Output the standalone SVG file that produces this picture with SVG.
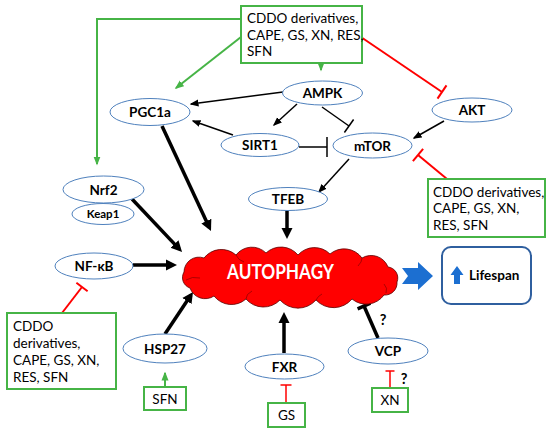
<svg xmlns="http://www.w3.org/2000/svg" width="550" height="432" viewBox="0 0 550 432">
<style>
.el{fill:#fff;stroke:#4f81bd;stroke-width:1}
.lb{font-family:Lato,"Liberation Sans",sans-serif;font-weight:bold;font-size:13.5px;fill:#000;text-anchor:middle}
.bx{fill:#fff;stroke:#46b446;stroke-width:2}
.bt{font-family:Lato,"Liberation Sans",sans-serif;font-size:13.5px;fill:#000}
.g{stroke:#46b446;stroke-width:2;fill:none}
.r{stroke:#ff0000;stroke-width:2;fill:none}
.k{stroke:#000;stroke-width:1.5;fill:none}
.kk{stroke:#000;stroke-width:3.5;fill:none}
</style>
<defs>
<marker id="ab" markerUnits="userSpaceOnUse" markerWidth="12" markerHeight="12" viewBox="0 0 12 12" refX="7" refY="6" orient="auto"><path d="M0,0.5 L11,6 L0,11.5 z" fill="#000"/></marker>
<marker id="at" markerUnits="userSpaceOnUse" markerWidth="9" markerHeight="8" viewBox="0 0 9 8" refX="7.5" refY="4" orient="auto"><path d="M0,0.5 L9,4 L0,7.5 z" fill="#000"/></marker>
<marker id="ag" markerUnits="userSpaceOnUse" markerWidth="9" markerHeight="8" viewBox="0 0 9 8" refX="7.5" refY="4" orient="auto"><path d="M0,0.5 L9,4 L0,7.5 z" fill="#46b446"/></marker>
</defs>

<g id="connectors">
<polyline class="g" points="241,19 97,19 97,164" marker-end="url(#ag)"/>
<line class="g" x1="241" y1="37" x2="176" y2="88" marker-end="url(#ag)"/>
<line class="g" x1="321" y1="47" x2="321" y2="70" marker-end="url(#ag)"/>
<line class="g" x1="165" y1="387" x2="165" y2="373" marker-end="url(#ag)"/>

<line class="r" x1="355" y1="33" x2="442" y2="92"/>
<line class="r" x1="437.5" y1="98.6" x2="446.5" y2="85.4"/>
<line class="r" x1="447" y1="179" x2="418" y2="155"/>
<line class="r" x1="423.1" y1="148.8" x2="412.9" y2="161.2"/>
<line class="r" x1="62" y1="313" x2="82" y2="287"/>
<line class="r" x1="87.6" y1="291.3" x2="76.4" y2="282.7"/>
<line class="r" style="stroke-width:1.5" x1="286" y1="403" x2="286" y2="385"/>
<line class="r" style="stroke-width:1.5" x1="280.5" y1="385" x2="291.5" y2="385"/>
<line class="r" style="stroke-width:1.5" x1="390" y1="388" x2="390" y2="371"/>
<line class="r" style="stroke-width:1.5" x1="385.5" y1="371" x2="394.5" y2="371"/>

<line class="k" x1="283" y1="92" x2="191" y2="104" marker-end="url(#at)"/>
<line class="k" x1="233" y1="135" x2="193" y2="121" marker-end="url(#at)"/>
<line class="k" x1="297" y1="104" x2="274" y2="125" marker-end="url(#at)"/>
<line class="k" x1="444" y1="121" x2="414" y2="138" marker-end="url(#at)"/>
<line class="k" x1="349" y1="159" x2="319" y2="192" marker-end="url(#at)"/>
<line class="k" x1="322" y1="107" x2="349" y2="126"/>
<line class="k" x1="344.4" y1="132.5" x2="353.6" y2="119.5"/>
<line class="k" x1="299" y1="147" x2="327" y2="147"/>
<line class="k" x1="327" y1="137" x2="327" y2="157"/>

<line class="kk" x1="162" y1="126" x2="209.3" y2="227.4" marker-end="url(#ab)"/>
<line class="kk" x1="132" y1="199" x2="179.3" y2="249.1" marker-end="url(#ab)"/>
<line class="kk" x1="133" y1="265" x2="173" y2="265" marker-end="url(#ab)"/>
<line class="kk" x1="165" y1="334" x2="190.8" y2="295.3" marker-end="url(#ab)"/>
<line class="kk" x1="284" y1="353" x2="284" y2="316" marker-end="url(#ab)"/>
<line class="kk" x1="287" y1="211" x2="287" y2="235" marker-end="url(#ab)"/>
<line class="kk" x1="378" y1="338" x2="364" y2="306"/>
<line class="kk" x1="370.4" y1="303.2" x2="357.6" y2="308.8"/>

<path d="M402,268 L418,268 L418,262 L433,276 L418,290 L418,284 L402,284 L408,276 Z" fill="#1c6fd1"/>
</g>

<g id="box-top"><rect class="bx" x="241" y="6" width="121" height="57"/>
<text class="bt" x="247" y="23">CDDO derivatives,</text>
<text class="bt" x="247" y="39.5">CAPE, GS, XN, RES,</text>
<text class="bt" x="247" y="56">SFN</text></g>

<g id="box-right"><rect class="bx" x="428" y="179" width="117" height="58"/>
<text class="bt" x="433" y="197">CDDO derivatives,</text>
<text class="bt" x="433" y="213">CAPE, GS, XN,</text>
<text class="bt" x="433" y="229.5">RES, SFN</text></g>

<g id="box-left"><rect class="bx" x="7" y="313" width="109" height="76"/>
<text class="bt" x="13" y="330.5">CDDO</text>
<text class="bt" x="13" y="347.5">derivatives,</text>
<text class="bt" x="13" y="364.5">CAPE, GS, XN,</text>
<text class="bt" x="13" y="381.5">RES, SFN</text></g>

<g id="box-sfn"><rect class="bx" x="144" y="387" width="42" height="23"/>
<text class="bt" x="165" y="404" text-anchor="middle">SFN</text></g>
<g id="box-gs"><rect class="bx" x="268" y="403" width="37" height="24"/>
<text class="bt" x="286.5" y="420" text-anchor="middle">GS</text></g>
<g id="box-xn"><rect class="bx" x="372" y="388" width="36" height="24"/>
<text class="bt" x="390" y="405" text-anchor="middle">XN</text></g>

<g id="PGC1a"><ellipse class="el" cx="150" cy="112" rx="40" ry="13.5"/><text class="lb" x="150" y="117">PGC1a</text></g>
<g id="AMPK"><ellipse class="el" cx="322.5" cy="93" rx="40" ry="12"/><text class="lb" x="322.5" y="98">AMPK</text></g>
<g id="AKT"><ellipse class="el" cx="472" cy="110" rx="40" ry="12"/><text class="lb" x="472" y="115">AKT</text></g>
<g id="SIRT1"><ellipse class="el" cx="260" cy="145" rx="39" ry="11.5"/><text class="lb" x="260" y="150">SIRT1</text></g>
<g id="mTOR"><ellipse class="el" cx="372.5" cy="145.5" rx="39.5" ry="12.5"/><text class="lb" x="372.5" y="150.5">mTOR</text></g>
<g id="TFEB"><ellipse class="el" cx="288" cy="199" rx="39.5" ry="11.5"/><text class="lb" x="288" y="204">TFEB</text></g>
<g id="Nrf2"><ellipse class="el" cx="103.5" cy="189.5" rx="40.5" ry="13.5"/><text class="lb" x="103.5" y="194.5">Nrf2</text></g>
<g id="Keap1"><ellipse class="el" cx="103" cy="214" rx="31" ry="10.5"/><text class="lb" style="font-size:11.5px" x="103" y="218">Keap1</text></g>
<g id="NFkB"><ellipse class="el" cx="94" cy="266" rx="39" ry="13"/><text class="lb" x="94" y="271">NF-κB</text></g>
<g id="HSP27"><ellipse class="el" cx="165" cy="348.5" rx="42" ry="14.5"/><text class="lb" x="165" y="353.5">HSP27</text></g>
<g id="FXR"><ellipse class="el" cx="284.5" cy="366.5" rx="39.5" ry="12.5"/><text class="lb" x="284.5" y="371.5">FXR</text></g>
<g id="VCP"><ellipse class="el" cx="388" cy="351" rx="40" ry="13"/><text class="lb" x="388" y="356">VCP</text></g>
<text class="lb" x="383" y="325" style="font-size:14.5px">?</text>
<text class="lb" x="404" y="384" style="font-size:14.5px">?</text>

<g id="autophagy">
<path d="M184,272 A15,15 0 0,1 204,258 A22,22 0 0,1 236,255 A20,20 0 0,1 266,253 A22,22 0 0,1 298,255 A22,22 0 0,1 330,254 A22,22 0 0,1 362,258 A18,18 0 0,1 388,267 A11,11 0 0,1 397,282 A12,12 0 0,1 384,295 A22,22 0 0,1 352,299 A24,24 0 0,1 316,300 A24,24 0 0,1 280,300 A23,23 0 0,1 246,299 A22,22 0 0,1 214,296 A16,16 0 0,1 190,288 A11,11 0 0,1 184,272 Z" fill="#ff0000" stroke="#5a0000" stroke-width="0.8"/>
<path d="M186,280 Q192,276 200,278 M236,255 Q238,260 244,262 M362,258 Q362,262 358,266 M384,284 Q388,288 386,293 M246,299 Q246,294 252,291 M316,300 Q318,296 322,294" fill="none" stroke="#8a0000" stroke-width="0.7"/>
<text x="280.5" y="279" font-family="Lato,'Liberation Sans',sans-serif" font-weight="bold" font-size="20" fill="#fff" text-anchor="middle" textLength="107" lengthAdjust="spacingAndGlyphs">AUTOPHAGY</text>
</g>

<g id="lifespan">
<rect x="442" y="247" width="89" height="57" rx="9" fill="#fff" stroke="#2f5f9f" stroke-width="2"/>
<path d="M457,266 L463.5,275 L460,275 L460,284 L454,284 L454,275 L450.5,275 Z" fill="#1c6fd1"/>
<text x="469" y="280" font-family="Lato,'Liberation Sans',sans-serif" font-weight="bold" font-size="13.5" fill="#000">Lifespan</text>
</g>
</svg>
